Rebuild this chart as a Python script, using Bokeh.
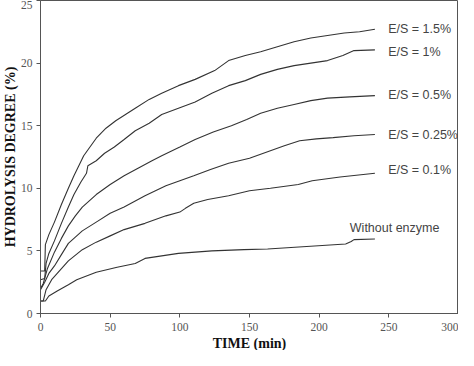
from bokeh.plotting import figure
from bokeh.embed import file_html
from bokeh.resources import INLINE
from bokeh.models import FixedTicker, Label, Title

# ---- data ----
t_15 = [0, 3.0, 3.5, 6, 10, 15, 20, 24, 31, 40, 47, 54, 61, 68, 78, 87, 99, 111, 125, 135, 147, 158, 170, 182, 194, 206, 218, 229, 240]
v_15 = [3.4, 3.4, 5.5, 6.3, 7.3, 8.7, 10.0, 11.0, 12.6, 14.0, 14.8, 15.4, 15.9, 16.4, 17.1, 17.6, 18.2, 18.7, 19.4, 20.2, 20.6, 20.9, 21.3, 21.7, 22.0, 22.2, 22.4, 22.5, 22.7]

t_1 = [0, 3.0, 4.0, 6, 10, 15, 20, 24, 29, 33, 34, 40, 46, 53, 60, 68, 78, 87, 99, 111, 123, 135, 147, 158, 170, 182, 194, 206, 217, 225, 240]
v_1 = [2.7, 2.8, 4.0, 4.8, 5.8, 7.2, 8.5, 9.5, 10.5, 11.2, 11.8, 12.2, 12.8, 13.3, 13.9, 14.6, 15.2, 15.9, 16.4, 16.9, 17.6, 18.2, 18.6, 19.1, 19.5, 19.8, 20.0, 20.2, 20.6, 21.0, 21.06]

t_05 = [0, 2, 5, 10, 15, 20, 25, 30, 40, 50, 60, 70, 80, 87, 100, 111, 124, 137, 148, 158, 170, 182, 194, 206, 222, 240]
v_05 = [2.0, 2.4, 3.6, 4.9, 6.0, 7.0, 7.8, 8.5, 9.5, 10.3, 11.0, 11.6, 12.2, 12.6, 13.3, 13.9, 14.5, 15.0, 15.5, 16.0, 16.4, 16.7, 17.0, 17.2, 17.3, 17.4]

t_025 = [0, 3, 6, 10, 15, 20, 25, 30, 40, 50, 60, 75, 90, 100, 110, 122, 135, 150, 165, 175, 186, 198, 210, 225, 240]
v_025 = [1.9, 2.5, 3.2, 3.8, 4.7, 5.6, 6.1, 6.6, 7.3, 8.0, 8.5, 9.4, 10.2, 10.6, 11.0, 11.5, 12.0, 12.4, 13.0, 13.4, 13.8, 13.95, 14.05, 14.2, 14.3]

t_01 = [0, 2, 4, 8, 12, 20, 30, 40, 50, 60, 75, 90, 100, 104, 110, 120, 135, 150, 165, 185, 195, 215, 240]
v_01 = [1.0, 1.0, 1.9, 2.7, 3.2, 4.2, 5.1, 5.7, 6.2, 6.7, 7.2, 7.8, 8.1, 8.4, 8.8, 9.1, 9.4, 9.8, 10.0, 10.3, 10.6, 10.9, 11.2]

t_0 = [0, 3.5, 6, 12, 20, 26, 40, 55, 68, 75, 99, 123, 146, 163, 191, 219, 223, 225, 240]
v_0 = [1.0, 1.0, 1.4, 1.8, 2.3, 2.7, 3.3, 3.7, 4.0, 4.4, 4.8, 5.0, 5.1, 5.15, 5.35, 5.55, 5.75, 5.9, 5.95]

labels = ["E/S = 1.5%", "E/S = 1%", "E/S = 0.5%", "E/S = 0.25%", "E/S = 0.1%", "Without enzyme"]
x_title = "TIME (min)"
y_title = "HYDROLYSIS DEGREE (%)"
x_ticks = [0, 50, 100, 150, 200, 250, 300]
y_ticks = [0, 5, 10, 15, 20, 25]

series = [(t_15, v_15), (t_1, v_1), (t_05, v_05), (t_025, v_025), (t_01, v_01), (t_0, v_0)]

p = figure(width=458, height=350, output_backend="svg", toolbar_location=None,
           x_range=(0, 300), y_range=(0, 25),
           min_border_left=0, min_border_right=0, min_border_top=0, min_border_bottom=0)
p.background_fill_color = "white"
p.border_fill_color = "white"
p.outline_line_color = "#555555"
p.outline_line_width = 1
p.xgrid.visible = False
p.ygrid.visible = False

for ax in (p.xaxis[0], p.yaxis[0]):
    ax.axis_line_color = "#555555"
    ax.major_tick_line_color = "#555555"
    ax.minor_tick_line_color = None
    ax.major_tick_in = 0
    ax.major_tick_out = 4
    ax.major_label_text_font = "Liberation Serif"
    ax.major_label_text_font_size = "11.5px"
    ax.major_label_text_color = "#555555"

p.xaxis.ticker = FixedTicker(ticks=x_ticks)
p.yaxis.ticker = FixedTicker(ticks=y_ticks)
p.xaxis.major_label_standoff = 5
p.yaxis.major_label_standoff = 4

for t, v in series:
    p.line(t, v, line_color="#333333", line_width=1.1)

# axis titles as side panels
p.add_layout(Title(text=x_title, align="center", text_font="Liberation Serif",
                   text_font_style="bold", text_font_size="14px",
                   text_color="#111111", standoff=0, offset=0), "below")
p.add_layout(Title(text=y_title, align="center", text_font="Liberation Serif",
                   text_font_style="bold", text_font_size="14px",
                   text_color="#111111", standoff=0, offset=0), "left")

# series labels next to the line ends
label_dy = [0.0, -0.15, 0.05, -0.05, 0.25, 0.85]
for i, ((t, v), txt) in enumerate(zip(series, labels)):
    if i < 5:
        lx = t[-1] + 9.5
    else:
        lx = t[-1] - 18
    p.add_layout(Label(x=lx, y=v[-1] + label_dy[i], text=txt,
                       text_font="Liberation Sans", text_font_size="12.5px",
                       text_color="#444444", text_baseline="middle"))

open("out.html", "w").write(file_html(p, INLINE))
